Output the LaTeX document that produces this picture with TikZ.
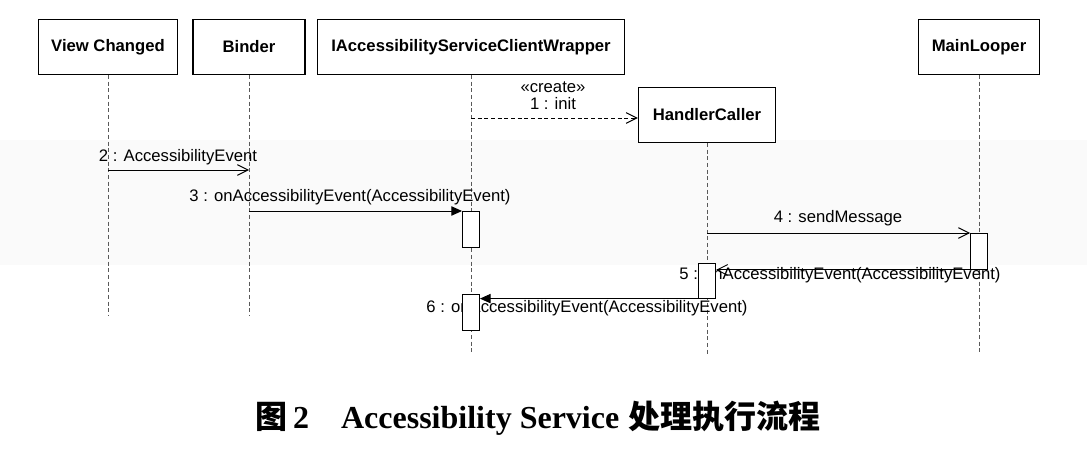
\documentclass[tikz,border=0pt]{standalone}
\usepackage{fontspec}
\setmainfont{Liberation Sans}
\newfontfamily\cjk{Noto Sans CJK SC}
\newfontfamily\capser{Liberation Serif}
\usetikzlibrary{arrows.meta}
\begin{document}
\begin{tikzpicture}[x=0.75pt,y=-0.75pt,
 obj/.style={draw,line width=0.8pt,fill=white,font=\bfseries\fontsize{12.5}{14}\selectfont,inner sep=0pt},
 life/.style={densely dashed,gray!70!black,line width=0.6pt},
 act/.style={draw,fill=white,line width=0.7pt,minimum width=12.75pt,minimum height=27pt,inner sep=0pt},
 lbl/.style={font=\fontsize{12.5}{14}\selectfont,inner sep=1pt},
 sync/.style={-{Triangle[length=8pt,width=7pt]},line width=0.7pt},
 asyn/.style={-{Straight Barb[length=8pt,width=8pt]},line width=0.7pt}]
\useasboundingbox (0,0) rectangle (1087,456);
\fill[gray!4] (0,140) rectangle (1087,265);
% objects
\node[obj,minimum width=104pt,minimum height=41pt] (vc) at (108,47) {View Changed};
\node[obj,minimum width=84pt,minimum height=41pt] (bd) at (249,47) {Binder};
\node[obj,minimum width=230pt,minimum height=41pt] (wr) at (471,47) {IAccessibilityServiceClientWrapper};
\node[obj,minimum width=103pt,minimum height=41pt] (hc) at (707,115) {HandlerCaller};
\node[obj,minimum width=91pt,minimum height=41pt] (ml) at (979,47) {MainLooper};
% lifelines
\coordinate (vce) at (108,315); \coordinate (bde) at (249,315);
\coordinate (wre) at (471,352); \coordinate (hce) at (707,356); \coordinate (mle) at (979,352);
\draw[life] (vc) -- (vce); \draw[life] (bd) -- (bde);
\draw[life] (wr) -- (wre); \draw[life] (hc) -- (hce); \draw[life] (ml) -- (mle);
% message 1
\coordinate (w1) at (471,118);
\draw[densely dashed,-{Straight Barb[length=8pt,width=8pt]},line width=0.7pt] (w1) -- (hc.west|-w1);
\node[lbl] (l1a) at (553,87) {«create»};
\node[lbl] (l1b) at (553,104) {1 : init};
% message 2
\coordinate (v2) at (108,170); \coordinate (b2) at (249,170);
\draw[asyn] (v2) -- (b2);
\node[lbl] (l2) at (178,157) {2 : AccessibilityEvent};
% activations
\node[act,anchor=north] (a3) at (471,211) {};
\node[act,anchor=north] (a4) at (979,233) {};
% message 3
\coordinate (b3) at (249,211);
\draw[sync] (b3) -- (a3.north west);
\node[lbl] (l3) at (350,197) {3 : onAccessibilityEvent(AccessibilityEvent)};
% message 4
\coordinate (h4) at (707,233);
\draw[asyn] (h4) -- (a4.north west);
\node[lbl] (l4) at (838,218) {4 : sendMessage};
% message 5
\node[lbl] (l5) at (840,275) {5 : onAccessibilityEvent(AccessibilityEvent)};
\node[act,anchor=north,minimum height=26pt] (a5) at (707,263) {};
\draw[asyn] (a4.south west) -- (a4.south west-|a5.east);
% message 6
\node[lbl] (l6) at (587,308) {6 : onAccessibilityEvent(AccessibilityEvent)};
\node[act,anchor=north,minimum height=27pt] (a6) at (471,294) {};
\draw[sync] (a5.south west) -- (a5.south west-|a6.east);
% caption
\node[font=\bfseries\fontsize{24}{28}\selectfont] (cap) at (538,418) {{\cjk 图}\,{\capser 2}\quad{\capser Accessibility Service} {\cjk 处理执行流程}};
\end{tikzpicture}
\end{document}
